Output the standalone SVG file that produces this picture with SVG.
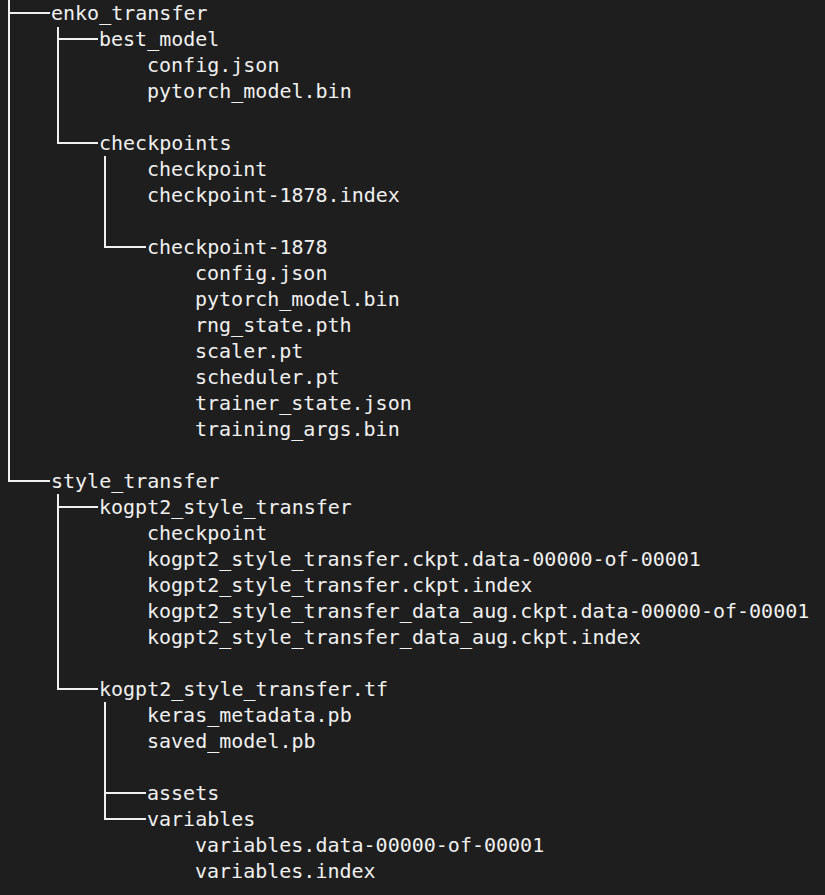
<svg xmlns="http://www.w3.org/2000/svg" width="825" height="895" viewBox="0 0 825 895">
<style>
text{font-family:"DejaVu Sans Mono","Liberation Mono",monospace;font-size:20px;fill:#f0f0f0}
.c line{stroke:#f0f0f0;stroke-width:2}
</style>
<rect width="825" height="895" fill="#1e1e1e"/>
<g class="c" id="connectors">
<line x1="9" y1="0" x2="9" y2="482"/>
<line x1="8" y1="13" x2="50" y2="13"/>
<line x1="8" y1="481" x2="50" y2="481"/>
<line x1="58" y1="27" x2="58" y2="144"/>
<line x1="57" y1="39" x2="98" y2="39"/>
<line x1="57" y1="143" x2="98" y2="143"/>
<line x1="105" y1="156" x2="105" y2="248"/>
<line x1="104" y1="247" x2="146" y2="247"/>
<line x1="58" y1="494" x2="58" y2="690"/>
<line x1="57" y1="507" x2="98" y2="507"/>
<line x1="57" y1="689" x2="98" y2="689"/>
<line x1="105" y1="702" x2="105" y2="820"/>
<line x1="104" y1="793" x2="146" y2="793"/>
<line x1="104" y1="819" x2="146" y2="819"/>
</g>
<g transform="translate(0,1)">
<g id="enko_transfer"><text x="51" y="19">enko_transfer</text></g>
<g id="best_model"><text x="99" y="45">best_model</text>
<text x="147" y="71">config.json</text>
<text x="147" y="97">pytorch_model.bin</text></g>
<g id="checkpoints"><text x="99" y="149">checkpoints</text>
<text x="147" y="175">checkpoint</text>
<text x="147" y="201">checkpoint-1878.index</text></g>
<g id="checkpoint-1878"><text x="147" y="253">checkpoint-1878</text>
<text x="195" y="279">config.json</text>
<text x="195" y="305">pytorch_model.bin</text>
<text x="195" y="331">rng_state.pth</text>
<text x="195" y="357">scaler.pt</text>
<text x="195" y="383">scheduler.pt</text>
<text x="195" y="409">trainer_state.json</text>
<text x="195" y="435">training_args.bin</text></g>
<g id="style_transfer"><text x="51" y="487">style_transfer</text></g>
<g id="kogpt2_style_transfer"><text x="99" y="513">kogpt2_style_transfer</text>
<text x="147" y="539">checkpoint</text>
<text x="147" y="565">kogpt2_style_transfer.ckpt.data-00000-of-00001</text>
<text x="147" y="591">kogpt2_style_transfer.ckpt.index</text>
<text x="147" y="617">kogpt2_style_transfer_data_aug.ckpt.data-00000-of-00001</text>
<text x="147" y="643">kogpt2_style_transfer_data_aug.ckpt.index</text></g>
<g id="kogpt2_style_transfer_tf"><text x="99" y="695">kogpt2_style_transfer.tf</text>
<text x="147" y="721">keras_metadata.pb</text>
<text x="147" y="747">saved_model.pb</text></g>
<g id="assets"><text x="147" y="799">assets</text></g>
<g id="variables"><text x="147" y="825">variables</text>
<text x="195" y="851">variables.data-00000-of-00001</text>
<text x="195" y="877">variables.index</text></g>
</g>
</svg>
